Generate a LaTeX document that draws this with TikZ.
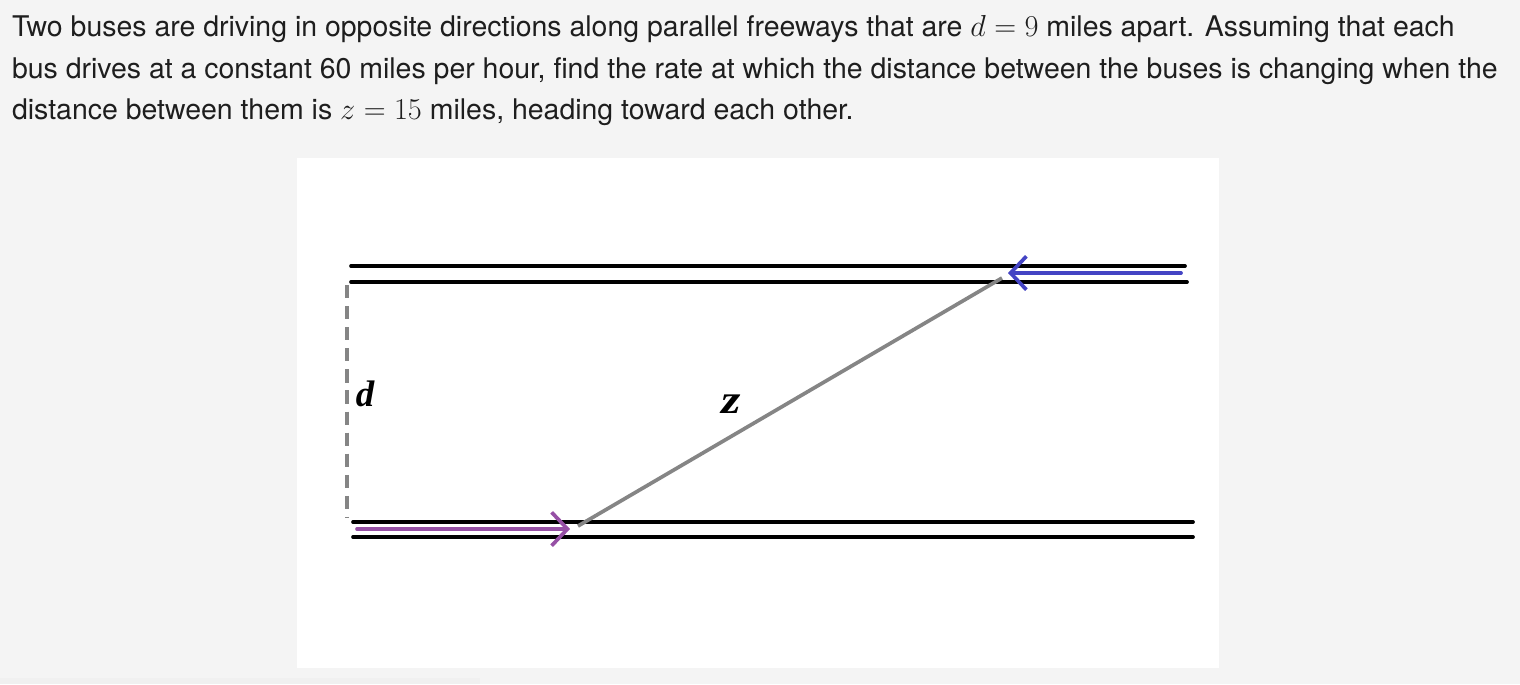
\documentclass[tikz,border=0pt]{standalone}
\usepackage{fontspec}
\setmainfont{TeX Gyre Heros}
\newfontfamily\labelfont{Liberation Serif}
\usetikzlibrary{arrows.meta}
\definecolor{pagegray}{HTML}{F4F4F4}
\definecolor{textgray}{HTML}{1E1E1E}
\definecolor{busblue}{HTML}{4444C4}
\definecolor{buspurple}{HTML}{9650A5}
\definecolor{linkgray}{HTML}{858585}

\begin{document}
\begin{tikzpicture}[x=0.02cm,y=-0.02cm,
    every node/.style={inner sep=0pt,outer sep=0pt},
    question/.style={anchor=base west,text=textgray,font=\fontsize{16.2pt}{18pt}\selectfont},
    road/.style={line width=2.1pt,line cap=round},
    bus/.style={line width=2.1pt,line cap=round,-{Straight Barb[length=9pt,width=19pt,line width=2.1pt]}},
    letter/.style={font=\labelfont\bfseries\itshape\fontsize{21pt}{21pt}\selectfont}]
    \useasboundingbox (0,0) rectangle (1520,684);
    \fill[pagegray] (0,0) rectangle (1520,684); % page background
    \fill[white] (297,158) rectangle (1219,668); % figure panel
    \fill[gray!12] (0,678) rectangle (480,684); % faint shadow at the bottom
    % question text
    \node[question] (line1) at (12,36) {Two buses are driving in opposite directions along parallel freeways that are $d=9$ miles apart. Assuming that each};
    \node[question] (line2) at (12,78) {bus drives at a constant 60 miles per hour, find the rate at which the distance between the buses is changing when the};
    \node[question] (line3) at (12,119) {distance between them is $z=15$ miles, heading toward each other.};
    % the two freeways
    \coordinate (topA1) at (351,266); \coordinate (topA2) at (1185,266);
    \coordinate (topB1) at (351,282); \coordinate (topB2) at (1187,282);
    \coordinate (botA1) at (353,522); \coordinate (botA2) at (1193,522);
    \coordinate (botB1) at (353,537); \coordinate (botB2) at (1193,537);
    \draw[road] (topA1) -- (topA2) (topB1) -- (topB2);
    \draw[road] (botA1) -- (botA2) (botB1) -- (botB2);
    % buses
    \coordinate (blueStart) at (1181,273); \coordinate (blueBus) at (1008,273);
    \coordinate (purpleStart) at (357,529); \coordinate (purpleBus) at (570,529);
    \draw[bus,busblue] (blueStart) -- (blueBus);
    \draw[bus,buspurple] (purpleStart) -- (purpleBus);
    % distance between the buses
    \coordinate (zLow) at (578,526); \coordinate (zHigh) at (1002,278);
    \draw[linkgray,line width=2.1pt] (zLow) -- (zHigh);
    \coordinate (dTop) at (347,285); \coordinate (dBot) at (347,518);
    \draw[linkgray,line width=2.4pt,dash pattern=on 7.5pt off 4.5pt] (dTop) -- (dBot);
    \node[letter] (dlabel) at (365,394) {d};
    \node[letter,xscale=1.35,yscale=1.1] (zlabel) at (731,404) {z};
\end{tikzpicture}
\end{document}
